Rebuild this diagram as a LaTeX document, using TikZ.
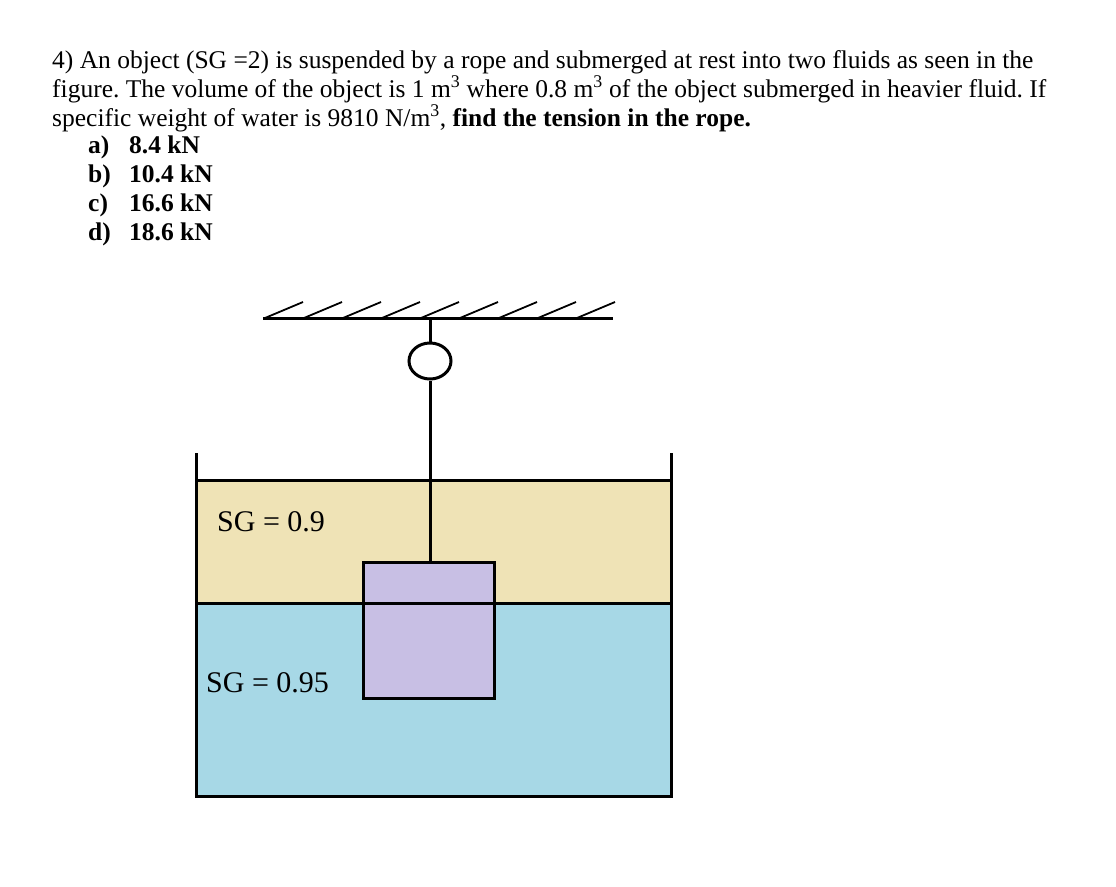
\documentclass[tikz,border=0pt]{standalone}
\usepackage{fontspec}
\usetikzlibrary{shapes.geometric}
\setmainfont{Liberation Serif}
\frenchspacing
\begin{document}
\begin{tikzpicture}[x=1pt,y=-1pt,
  ln/.style={line width=3pt},
  txt/.style={anchor=base west,inner sep=0pt,font=\fontsize{25.5}{29}\selectfont},
  lab/.style={anchor=base west,inner sep=0pt,font=\fontsize{30}{34}\selectfont}]
\useasboundingbox (0,0) rectangle (1116,886);
\definecolor{beige}{RGB}{239,227,182}
\definecolor{water}{RGB}{167,216,230}
\definecolor{obj}{RGB}{200,191,228}
\node[txt] (l1) at (52,68) {4) An object (SG =2) is suspended by a rope and submerged at rest into two fluids as seen in the};
\node[txt] (l2) at (52,97) {figure. The volume of the object is 1 m\textsuperscript{3} where 0.8 m\textsuperscript{3} of the object submerged in heavier fluid. If};
\node[txt] (l3) at (52,126) {specific weight of water is 9810 N/m\textsuperscript{3}, \textbf{find the tension in the rope.}};
\node[txt] (a) at (88,153) {\textbf{a)}};
\node[txt] (b) at (88,182) {\textbf{b)}};
\node[txt] (c) at (88,211) {\textbf{c)}};
\node[txt] (d) at (88,240) {\textbf{d)}};
\node[txt] (av) at (129,153) {\textbf{8.4 kN}};
\node[txt] (bv) at (129,182) {\textbf{10.4 kN}};
\node[txt] (cv) at (129,211) {\textbf{16.6 kN}};
\node[txt] (dv) at (129,240) {\textbf{18.6 kN}};
% fluids
\fill[beige] (196,480) rectangle (671,603);
\fill[water] (196,603) rectangle (671,796);
\draw[ln] (196,480) -- (671,480);
\draw[ln] (196,603) -- (671,603);
\draw[ln] (196,453) -- (196,796) -- (671,796) -- (671,453);
% object
\draw[ln,fill=obj] (363,562) rectangle (494,698);
\draw[ln] (363,603) -- (494,603);
% ceiling
\draw[ln] (263,318) -- (613,318);
\foreach \i in {0,...,8} \draw[line width=1.8pt] (265+39*\i,318) -- (303+39*\i,302);
\coordinate (top) at (430,318);
\node[draw,ellipse,line width=3pt,minimum width=42pt,minimum height=36pt,inner sep=0pt] (ring) at (430,361) {};
\coordinate (objtop) at (430,562);
\draw[ln] (top) -- (ring.north);
\draw[ln] (ring.south) -- (objtop);
\node[lab] (sg1) at (217,531) {SG = 0.9};
\node[lab] (sg2) at (206,692) {SG = 0.95};
\end{tikzpicture}
\end{document}
